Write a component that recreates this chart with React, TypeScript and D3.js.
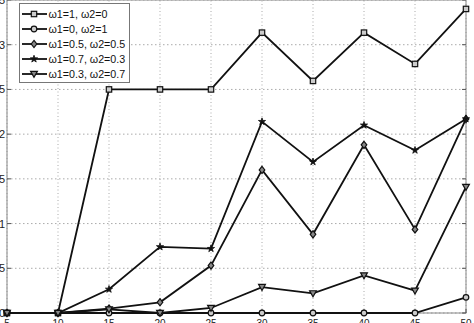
import React from "react";
import * as d3 from "d3";

const xValues = [5, 10, 15, 20, 25, 30, 35, 40, 45, 50];
const seriesNames = ["ω1=1, ω2=0", "ω1=0, ω2=1", "ω1=0.5, ω2=0.5", "ω1=0.7, ω2=0.3", "ω1=0.3, ω2=0.7"];
const s1 = [0, 0, 2.5, 2.5, 2.5, 3.135, 2.595, 3.135, 2.785, 3.40];
const s2 = [0, 0, 0, 0, 0, 0, 0, 0, 0, 0.175];
const s3 = [0, 0, 0.05, 0.12, 0.53, 1.6, 0.88, 1.88, 0.935, 2.17];
const s4 = [0, 0, 0.265, 0.74, 0.72, 2.14, 1.69, 2.1, 1.82, 2.17];
const s5 = [0, 0, 0.04, 0.0, 0.056, 0.29, 0.22, 0.42, 0.25, 1.41];
const markers = ["square", "circle", "diamond", "star", "triangle"];
const yTicks = [0, 0.5, 1, 1.5, 2, 2.5, 3, 3.5];

const W = 474, H = 323;
const x = d3.scaleLinear().domain([5, 50]).range([7, 466]);
const y = d3.scaleLinear().domain([0, 3.5]).range([313, 0]);

function Marker({ type, cx, cy }: { type: string; cx: number; cy: number }) {
  const s = 2.7;
  if (type === "square")
    return <rect x={cx - s} y={cy - s} width={2 * s} height={2 * s} fill="#ccc" stroke="#111" strokeWidth={1.2} />;
  if (type === "circle")
    return <circle cx={cx} cy={cy} r={2.8} fill="#ccc" stroke="#111" strokeWidth={1.2} />;
  if (type === "diamond")
    return <path d={`M${cx},${cy - 3.6}L${cx + 2.8},${cy}L${cx},${cy + 3.6}L${cx - 2.8},${cy}Z`} fill="#888" stroke="#111" strokeWidth={1.2} />;
  if (type === "star") {
    const p = d3.symbol(d3.symbolStar, 16)();
    return <path d={p as string} transform={`translate(${cx},${cy})`} fill="#111" stroke="#111" strokeWidth={0.8} />;
  }
  return <path d={`M${cx - 3.4},${cy - 2.6}L${cx + 3.4},${cy - 2.6}L${cx},${cy + 3.4}Z`} fill="#888" stroke="#111" strokeWidth={1.2} />;
}

export default function App() {
  const all = [s1, s2, s3, s4, s5];
  const line = d3.line<number>().x((_, i) => x(xValues[i])).y((d) => y(d));
  const gridColor = "#aaa";
  return (
    <svg width={W} height={H} style={{ position: "absolute", left: 0, top: 0, background: "#fff" }} fontFamily="Liberation Sans, Arial, sans-serif">
      <rect x={0} y={0} width={W} height={H} fill="#fff" />
      {xValues.map((v) => (
        <line key={"gx" + v} x1={x(v)} x2={x(v)} y1={y(0)} y2={y(3.5)} stroke={gridColor} strokeDasharray="1,2.5" strokeWidth={1} />
      ))}
      {yTicks.map((v) => (
        <line key={"gy" + v} x1={x(5)} x2={x(50)} y1={y(v)} y2={y(v)} stroke={gridColor} strokeDasharray="1.5,2.5" strokeWidth={1} />
      ))}
      <rect x={x(5)} y={y(3.5)} width={x(50) - x(5)} height={y(0) - y(3.5)} fill="none" stroke="#888" strokeWidth={1} />
      {yTicks.map((v) => (
        <g key={"ty" + v}>
          <line x1={x(5)} x2={x(5) + 4} y1={y(v)} y2={y(v)} stroke="#555" />
          <line x1={x(50)} x2={x(50) - 4} y1={y(v)} y2={y(v)} stroke="#555" />
          <text x={5} y={y(v) + 4} textAnchor="end" fontSize={11} fill="#222">{String(v)}</text>
        </g>
      ))}
      {xValues.map((v) => (
        <g key={"tx" + v}>
          <line x1={x(v)} x2={x(v)} y1={y(0)} y2={y(0) - 4} stroke="#555" />
          <text x={x(v)} y={327} textAnchor="middle" fontSize={10} fill="#222">{String(v)}</text>
        </g>
      ))}
      {all.map((s, k) => (
        <path key={"l" + k} d={line(s) as string} fill="none" stroke="#111" strokeWidth={1.8} strokeLinejoin="miter" />
      ))}
      {all.map((s, k) => (
        <g key={"m" + k}>
          {s.map((d, i) => (
            <Marker key={i} type={markers[k]} cx={x(xValues[i])} cy={y(d)} />
          ))}
        </g>
      ))}
      <rect x={19.5} y={3.5} width={110} height={79} fill="#fff" stroke="#777" strokeWidth={1} />
      {seriesNames.map((n, k) => {
        const ly = 14 + k * 15;
        return (
          <g key={"lg" + k}>
            <line x1={22} x2={47} y1={ly} y2={ly} stroke="#111" strokeWidth={1.8} />
            <Marker type={markers[k]} cx={34} cy={ly} />
            <text x={48.5} y={ly + 4} fontSize={10.7} fill="#111">{n}</text>
          </g>
        );
      })}
    </svg>
  );
}
